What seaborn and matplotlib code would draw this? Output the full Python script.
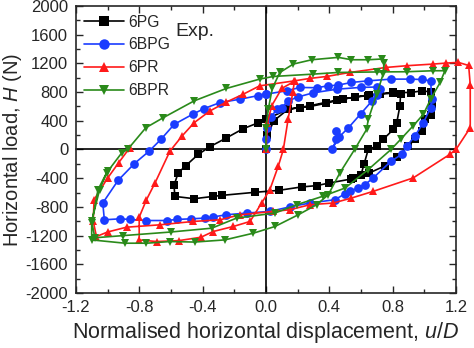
import numpy as np
import pandas as pd
import matplotlib
matplotlib.use("Agg")
import matplotlib.pyplot as plt
from matplotlib.lines import Line2D
import seaborn as sns

series_names = ["6PG", "6BPG", "6PR", "6BPR"]
series_colors = ["#000000", "#1a3cff", "#ff1a1a", "#2a8a1a"]
series_markers = ["s", "o", "^", "v"]

# 6PG (black squares)
pg_u = [0.00, 0.01, 0.05, 0.14, 0.215, 0.28, 0.38, 0.485, 0.56, 0.645, 0.72, 0.80, 0.85,
        0.846, 0.826, 0.805, 0.74, 0.70, 0.646, 0.62, 0.60, 0.54, 0.40, 0.32, 0.225, 0.08, -0.07, -0.28, -0.333, -0.453, -0.575,
        -0.58, -0.554, -0.505, -0.428, -0.354, -0.25, -0.143, -0.05, 0.00, 0.14, 0.28, 0.45, 0.65, 0.80, 0.916, 0.983, 1.04,
        1.05, 1.04, 1.004, 0.983, 0.94, 0.90, 0.83, 0.75, 0.65, 0.55]
pg_h = [0, 200, 400, 560, 583, 600, 644, 700, 730, 750, 770, 785, 770,
        607, 373, 280, 140, 47, 0, -200, -355, -411, -467, -504, -522, -570, -597, -640, -654, -686, -654,
        -500, -326, -224, -70, 38, 160, 290, 370, 420, 560, 610, 690, 760, 795, 793, 817, 803,
        630, 476, 420, 257, 140, 50, -100, -230, -330, -400]

# 6BPG (blue circles)
bpg_u1 = [0.00, 0.00, 0.01, 0.03, 0.07, 0.10, 0.14, 0.20, 0.30, 0.45, 0.60, 0.70, 0.72, 0.70, 0.67, 0.60, 0.52, 0.46, 0.42, 0.445, 0.445]
bpg_h1 = [0, 150, 300, 450, 560, 583, 677, 730, 790, 840, 865, 870, 840, 760, 677, 500, 300, 170, 10, 140, 260]
bpg_u2 = [0.00, 0.13, 0.215, 0.32, 0.39, 0.455, 0.54, 0.646, 0.79, 0.91,
          0.983, 1.04, 1.047, 1.04, 0.994, 0.94, 0.89, 0.857, 0.79, 0.678,
          0.625, 0.583, 0.53, 0.50, 0.436, 0.278, 0.15, 0.025, -0.12, -0.25,
          -0.333, -0.385, -0.47, -0.564, -0.627, -0.758, -0.86, -0.92, -1.02, -1.03,
          -0.933, -0.83, -0.737, -0.663, -0.579, -0.463, -0.39, -0.29, -0.164, -0.05, 0.00]
bpg_h2 = [770, 817, 864, 860, 886, 896, 934, 956, 980, 980,
          975, 956, 700, 583, 373, 186, 47, -70, -163, -396,
          -490, -537, -583, -616, -700, -746, -800, -863, -886, -910,
          -940, -956, -966, -975, -990, -990, -975, -966, -980, -746,
          -430, -196, -23, 140, 350, 490, 570, 653, 700, 750, 770]

# 6PR (red up-triangles)
pr_u = [0.00, 0.01, 0.036, 0.10, 0.18, 0.17, 0.14, 0.11, 0.078, 0.025, -0.027, -0.10, -0.206, -0.333, -0.41, -0.55, -0.69, -0.80,
        -0.80, -0.754, -0.70, -0.606, -0.53, -0.453, -0.354, -0.25, -0.143, -0.04, 0.183, 0.278, 0.383, 0.53, 0.76, 0.89, 1.057, 1.14, 1.215,
        1.28, 1.29, 1.29, 1.20, 1.16, 0.93, 0.678, 0.54, 0.425, 0.278, 0.15, 0.046, -0.164, -0.29, -0.46, -0.67, -0.88, -1.00, -1.07,
        -1.09, -1.085, -1.00, -0.93, -0.86]
pr_h = [0, 370, 607, 850, 950, 800, 420, 0, -233, -560, -746, -1003, -1073, -1143, -1223, -1270, -1283, -1260,
        -943, -700, -466, -23, 186, 373, 536, 660, 770, 886, 957, 990, 1017, 1073, 1143, 1167, 1190, 1204, 1213,
        1170, 900, 303, 0, -70, -396, -583, -677, -746, -770, -840, -863, -910, -980, -1003, -1050, -1083, -1150, -1213,
        -1000, -700, -400, -186, 23]

# 6BPR (green down-triangles)
bpr_u = [0.00, 0.00, 0.015, 0.04, 0.088, 0.173, 0.29, 0.457, 0.54, 0.646, 0.73, 0.745, 0.74, 0.70, 0.646, 0.636, 0.56,
         0.467, 0.394, 0.32, 0.204, 0.057, -0.08, -0.26, -0.45, -0.606, -0.754, -0.89, -1.10,
         -1.10, -1.06, -1.006, -0.91, -0.873, -0.758, -0.648, -0.453, -0.25, -0.04, 0.046, 0.30, 0.457, 0.70, 0.89, 1.057, 1.13,
         1.10, 1.04, 0.994, 0.93, 0.85, 0.79, 0.646, 0.50, 0.362, 0.194, 0.057, -0.185, -0.343, -0.60, -0.90, -1.08,
         -1.10, -1.05, -1.00]
bpr_h = [0, 300, 560, 850, 1073, 1190, 1250, 1283, 1250, 1250, 1260, 1200, 1050, 770, 420, 280, 0,
         -326, -630, -770, -910, -1073, -1167, -1260, -1290, -1283, -1306, -1306, -1260,
         -1026, -560, -326, -47, 0, 303, 443, 677, 850, 980, 1017, 1050, 1073, 1080, 1083, 1097, 1097,
         934, 700, 490, 330, 140, 0, -280, -537, -650, -770, -886, -956, -1097, -1150, -1200, -1230,
         -1000, -560, -300]

x_ticks = [-1.2, -0.8, -0.4, 0.0, 0.4, 0.8, 1.2]
y_ticks = [-2000, -1600, -1200, -800, -400, 0, 400, 800, 1200, 1600, 2000]

segments = {
    "6PG": [(pg_u, pg_h)],
    "6BPG": [(bpg_u1, bpg_h1), (bpg_u2, bpg_h2)],
    "6PR": [(pr_u, pr_h)],
    "6BPR": [(bpr_u, bpr_h)],
}
rows = []
for name in series_names:
    for k, (uu, hh) in enumerate(segments[name]):
        for i, (a, b) in enumerate(zip(uu, hh)):
            rows.append({"series": name, "seg": f"{name}_{k}", "i": i, "u": a, "H": b})
df = pd.DataFrame(rows)

sns.set_style("ticks")
plt.rcParams["font.family"] = ["Liberation Sans", "DejaVu Sans"]
plt.rcParams["axes.unicode_minus"] = False
plt.rcParams["mathtext.fontset"] = "custom"
plt.rcParams["mathtext.it"] = "Liberation Sans:italic"
plt.rcParams["mathtext.rm"] = "Liberation Sans"

fig = plt.figure(figsize=(4.74, 3.48), dpi=100)
ax = fig.add_axes([0.160, 0.158, 0.802, 0.825])

ax.axhline(0, color="black", lw=1.2, zorder=1)
ax.axvline(0, color="black", lw=1.2, zorder=1)

sns.lineplot(data=df, x="u", y="H", hue="series", style="series", units="seg",
             estimator=None, sort=False, hue_order=series_names, style_order=series_names,
             palette=dict(zip(series_names, series_colors)),
             markers=dict(zip(series_names, series_markers)), dashes=False,
             linewidth=1.2, markersize=6.3, markeredgewidth=0, legend=False, ax=ax, zorder=3)
for ln in ax.lines:
    ln.set_clip_on(False)

ax.set_xlim(-1.2, 1.2)
ax.set_ylim(-2000, 2000)
ax.set_xticks(x_ticks)
ax.set_xticklabels([f"{v:.1f}" for v in x_ticks])
ax.set_yticks(y_ticks)
ax.set_xticks(np.arange(-1.0, 1.2, 0.4), minor=True)
ax.set_yticks(np.arange(-1800, 2000, 400), minor=True)
ax.tick_params(which="both", direction="in", top=True, right=True, labelsize=12, width=1.0)
ax.tick_params(which="major", length=5)
ax.tick_params(which="minor", length=3)
ax.tick_params(axis="x", which="major", pad=5)
ax.tick_params(axis="y", which="major", pad=5.5)
for s in ax.spines.values():
    s.set_linewidth(1.2)
    s.set_visible(True)

ax.set_xlabel("Normalised horizontal displacement, $u/D$", fontsize=15.5, labelpad=3.5)
ax.set_ylabel("Horizontal load, $H$ (N)", fontsize=14.5, labelpad=1)

handles = [Line2D([], [], color=c, marker=m, markersize=7.5, lw=1.2, markeredgewidth=0)
           for c, m in zip(series_colors, series_markers)]
ax.legend(handles, series_names, loc="upper left", frameon=False, fontsize=11.3,
          handlelength=2.5, handletextpad=0.3, labelspacing=0.5,
          borderaxespad=0.15, borderpad=0.4)
ax.text(-0.45, 1640, "Exp.", fontsize=14, ha="center", va="center")

fig.savefig("out.png", dpi=100)
